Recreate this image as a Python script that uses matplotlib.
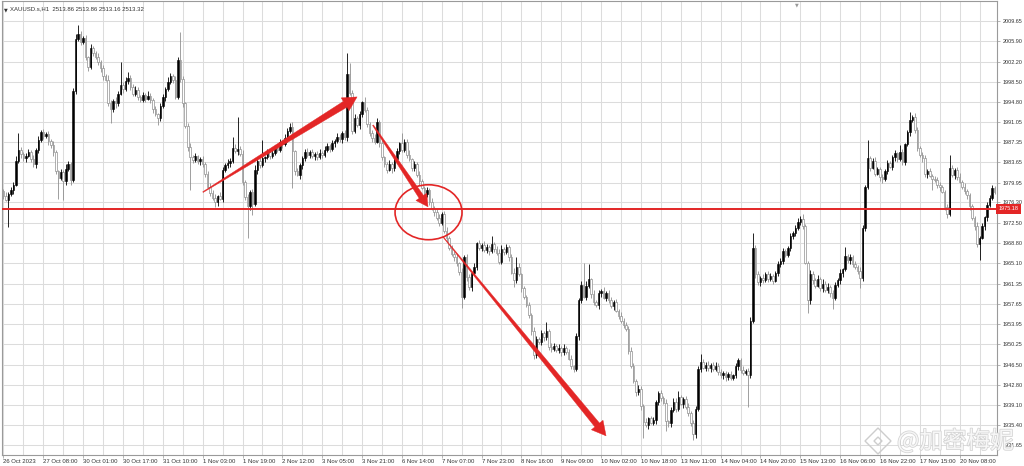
import matplotlib
matplotlib.use('Agg')
import matplotlib.pyplot as plt
import matplotlib.patheffects as pe
import matplotlib.transforms as mtransforms
from matplotlib.patches import Polygon, Ellipse
import numpy as np

# XAUUSD H1 closes, one per bar
closes = [
    1977.5, 1976.8, 1977.9, 1978.6, 1979.6, 1984.0, 1985.9, 1985.2, 1984.4, 1984.9,
    1985.6, 1984.3, 1983.3, 1985.9, 1987.8, 1989.2, 1988.5, 1988.9, 1987.6, 1986.9,
    1985.5, 1982.0, 1980.8, 1981.9, 1980.2, 1982.5, 1983.4, 1980.4, 1996.7, 2006.3,
    2007.2, 2005.8, 2006.5, 2003.0, 2001.2, 2004.6, 2003.8, 2003.0, 2002.1, 2001.0,
    1999.5, 1998.9, 1994.6, 1993.4, 1995.0, 1994.5, 1996.3, 1997.9, 1997.1, 1998.6,
    1999.2, 1997.6, 1996.2, 1997.0, 1995.7, 1995.2, 1996.0, 1995.4, 1995.9, 1995.1,
    1993.4, 1992.5, 1991.8, 1994.0, 1995.6, 1997.1, 1998.5, 1999.6, 1998.9, 1995.6,
    2002.4, 1999.0, 1994.5, 1990.4, 1986.5, 1984.6, 1984.1, 1984.8, 1983.9, 1984.2,
    1983.4, 1981.6, 1979.2, 1978.1, 1977.2, 1976.4, 1977.4, 1977.0, 1982.3, 1983.1,
    1983.5, 1984.0, 1986.4, 1985.7, 1986.2, 1985.2, 1980.1, 1977.3, 1975.6, 1978.2,
    1976.0, 1982.3, 1983.9, 1983.2, 1984.4, 1984.6, 1985.6, 1984.9, 1985.4, 1986.3,
    1986.0, 1987.4, 1987.0, 1988.2, 1989.5, 1990.2, 1985.7, 1982.0, 1981.4, 1983.1,
    1984.5, 1985.6, 1985.0, 1985.5, 1984.8, 1985.2, 1984.6, 1985.4, 1985.1, 1986.0,
    1986.6, 1986.2, 1987.2, 1987.6, 1988.4, 1987.9, 1989.0, 1988.3, 2000.0, 1996.4,
    1989.4, 1991.8, 1990.6, 1992.5, 1994.7, 1993.3, 1990.7, 1989.0, 1988.1, 1987.5,
    1991.0, 1987.2, 1984.6, 1983.3, 1982.3, 1983.4, 1982.6, 1984.3, 1985.8, 1987.2,
    1986.0, 1987.4, 1985.1, 1984.2, 1982.6, 1983.4, 1981.3, 1980.2, 1979.0, 1977.9,
    1978.6, 1976.4, 1975.3, 1974.6, 1973.5, 1972.6, 1974.2, 1971.0, 1969.8, 1968.0,
    1966.9, 1966.2, 1965.1, 1963.6, 1959.0, 1966.2, 1962.6, 1960.7, 1963.3, 1964.5,
    1968.8, 1967.9, 1968.5, 1967.6, 1968.2, 1967.4, 1968.6, 1967.8, 1967.0, 1965.4,
    1967.8, 1967.2, 1968.1, 1966.3, 1963.4, 1962.1, 1964.5, 1963.1, 1960.5, 1958.9,
    1957.4, 1955.6, 1952.7, 1948.3, 1951.2, 1950.6, 1952.3, 1951.5, 1952.6, 1949.8,
    1949.4, 1949.9, 1949.1, 1949.6, 1948.8, 1949.5, 1948.9, 1947.6, 1946.2, 1945.7,
    1951.8, 1958.4, 1961.2, 1959.0, 1961.0, 1962.2, 1959.5, 1958.0, 1957.4, 1959.6,
    1960.1, 1958.8, 1959.7, 1958.4, 1957.3, 1958.0, 1956.4, 1955.5, 1954.6, 1953.7,
    1953.1, 1949.0, 1946.2, 1943.5, 1941.4, 1942.1, 1938.8, 1936.0, 1935.4, 1936.6,
    1935.8, 1936.3, 1939.7, 1941.2, 1940.3, 1939.5, 1936.1, 1935.7, 1938.2, 1939.6,
    1938.4, 1940.5, 1939.3, 1940.2, 1938.7, 1937.6, 1935.8, 1933.7, 1938.4, 1945.6,
    1946.9, 1945.9, 1946.5, 1945.8, 1946.4, 1945.7, 1946.3, 1945.1, 1944.6, 1945.0,
    1944.2, 1944.7, 1944.0, 1944.5, 1946.2, 1947.3, 1945.5, 1944.9, 1945.3, 1944.6,
    1954.5, 1967.9, 1963.2, 1961.6, 1962.4, 1962.0, 1963.1, 1962.3, 1962.8, 1961.9,
    1963.4, 1964.9, 1965.6, 1967.3, 1966.6, 1968.0, 1970.1, 1970.7, 1971.6, 1972.7,
    1973.3, 1971.9, 1965.2, 1958.4, 1963.2, 1962.0, 1961.0, 1962.3, 1960.6, 1961.4,
    1960.2, 1960.8, 1959.6, 1958.8, 1961.1, 1962.0, 1963.3, 1964.0, 1966.4, 1965.7,
    1966.3, 1965.0, 1964.4, 1963.7, 1962.5, 1971.6, 1979.2, 1984.4, 1982.7, 1983.9,
    1981.6, 1982.4, 1980.9, 1980.6, 1982.1, 1983.5, 1982.9, 1984.6, 1985.3, 1984.2,
    1985.6, 1983.7, 1987.0, 1989.2, 1991.4, 1992.0, 1989.6, 1986.3, 1985.0, 1984.4,
    1981.5, 1982.0, 1981.2, 1980.6, 1980.4, 1979.6, 1979.1, 1978.3, 1975.4, 1974.2,
    1982.6, 1981.4, 1982.2, 1981.0, 1980.1, 1979.2, 1978.4, 1977.6, 1975.6, 1973.4,
    1972.0, 1968.6, 1969.8, 1971.9, 1973.6, 1975.8, 1977.2, 1978.9, 1978.2,
]
first_open = 1978.4

# wick lengths above / below the body, in tenths of a dollar
up_wick = [
    4,7,3,6,5,9,4,6,3,5, 6,3,8,5,7,4,6,3,5,4, 7,5,3,6,4,8,5,3,6,9, 5,7,4,6,3,8,5,4,7,3,
    6,4,9,5,3,7,4,6,5,8, 3,6,4,7,5,3,6,4,8,5, 4,7,3,5,6,4,9,5,3,6, 7,4,6,3,5,8,4,6,3,5,
    6,3,5,7,4,6,3,8,5,4, 7,5,4,6,3,5,8,4,6,3, 5,8,4,6,7,3,5,4,9,6, 4,6,3,7,5,4,8,3,6,5,
    3,5,7,4,6,3,5,8,4,6, 6,4,5,3,7,5,4,6,3,8, 5,7,4,6,3,9,5,4,6,7, 8,4,6,3,5,7,4,6,5,3,
    4,6,5,8,3,6,4,7,5,4, 6,3,7,4,5,6,3,5,8,4, 5,4,6,3,7,4,6,5,3,7, 3,6,4,7,5,3,6,4,5,8,
    7,4,5,3,6,8,4,6,3,5, 4,6,3,7,5,4,6,3,8,5, 6,5,4,6,3,7,5,4,6,3, 5,3,6,4,8,5,3,7,4,6,
    3,7,4,6,5,3,6,4,7,5, 6,4,8,5,3,6,4,5,7,3, 4,6,3,5,7,4,6,3,5,8, 7,3,5,4,6,8,3,5,4,6,
    5,6,4,7,3,5,6,4,6,3, 4,5,7,3,6,4,5,7,3,6, 8,4,6,5,3,7,4,6,5,4, 3,6,4,7,5,3,6,4,5,7,
    6,4,5,3,7,5,4,6,3,8, 4,7,3,6,5,4,7,3,6,5, 5,3,6,4,7,5,3,8,4,6, 7,5,4,6,3,6,5,4,7,3,
    4,6,3,5,7,4,8,5,3,6, 6,4,7,3,5,6,4,5,3,7, 3,5,4,6,8,4,6,3,5,4, 5,7,4,6,3,5,4,6,5,
]
dn_wick = [
    5,3,6,4,7,3,5,8,4,6, 3,6,4,7,5,3,6,4,8,5, 6,4,7,3,5,6,4,9,3,5, 4,6,3,5,8,4,6,3,5,7,
    7,3,5,6,4,8,5,3,6,4, 5,7,4,3,6,5,4,7,3,6, 6,4,8,5,3,6,4,5,7,3, 3,5,6,4,7,3,5,4,6,8,
    5,7,3,6,4,5,8,3,6,4, 4,6,5,3,7,4,6,5,3,6, 6,3,7,5,4,6,3,7,5,4, 5,4,6,3,8,5,4,6,3,7,
    7,5,3,6,4,7,5,3,6,4, 4,6,5,7,3,4,6,5,7,3, 6,3,4,8,5,3,6,4,7,5, 3,7,5,4,6,3,8,5,4,6,
    5,4,7,3,6,5,4,6,3,7, 6,5,3,7,4,6,5,3,8,4, 4,7,5,6,3,4,7,5,6,3, 7,3,6,4,5,7,3,6,4,5,
    5,6,4,7,3,5,6,4,7,3, 3,5,7,4,6,3,5,7,4,6, 6,4,3,5,7,6,4,3,5,8, 4,7,5,3,6,4,7,5,3,6,
    7,3,6,5,4,7,3,6,5,4, 5,6,4,3,7,5,6,4,3,7, 3,4,7,6,5,3,4,7,6,5, 6,5,3,7,4,6,5,3,7,4,
    4,3,6,5,7,4,3,6,5,7, 7,6,4,3,5,7,6,4,3,5, 5,3,7,4,6,5,3,7,4,6, 3,7,5,6,4,3,7,5,6,4,
    6,4,3,5,7,6,4,3,5,7, 4,6,7,3,5,4,6,7,3,5, 7,5,4,6,3,7,5,4,6,3, 5,3,6,7,4,5,3,6,7,4,
    3,6,5,4,7,3,6,5,4,7, 6,7,3,5,4,6,7,3,5,4, 4,5,7,6,3,4,5,7,6,3, 7,4,5,3,6,7,4,5,3,
]
# long wicks (bar index -> price)
high_spikes = {6: 1989.1, 30: 2008.9, 47: 2002.1, 50: 2000.3, 71: 2007.6, 92: 1988.3,
               94: 1992.0, 104: 1987.8, 115: 1990.9, 138: 2003.8, 139: 2001.9, 160: 1989.0,
               196: 1970.2, 206: 1966.2, 218: 1954.3, 233: 1965.2, 235: 1965.0, 271: 1941.6,
               280: 1948.4, 295: 1947.8, 301: 1970.6, 321: 1974.2, 338: 1968.1, 347: 1987.8,
               360: 1986.9, 364: 1992.9, 380: 1985.0, 397: 1979.6}
low_spikes = {2: 1971.8, 22: 1976.9, 24: 1976.7, 43: 1990.9, 62: 1990.5, 75: 1978.6,
              85: 1975.4, 98: 1969.8, 100: 1974.0, 116: 1979.0, 184: 1956.9, 205: 1960.7,
              213: 1947.5, 229: 1945.1, 257: 1933.0, 266: 1934.3, 277: 1932.6, 299: 1938.7,
              323: 1955.9, 333: 1956.7, 344: 1960.5, 373: 1978.6, 379: 1973.4, 392: 1965.7}

time_labels = ["26 Oct 2023", "27 Oct 08:00", "30 Oct 01:00", "30 Oct 17:00", "31 Oct 10:00",
               "1 Nov 03:00", "1 Nov 19:00", "2 Nov 12:00", "3 Nov 05:00", "3 Nov 21:00",
               "6 Nov 14:00", "7 Nov 07:00", "7 Nov 23:00", "8 Nov 16:00", "9 Nov 09:00",
               "10 Nov 02:00", "10 Nov 18:00", "13 Nov 11:00", "14 Nov 04:00", "14 Nov 20:00",
               "15 Nov 13:00", "16 Nov 06:00", "16 Nov 22:00", "17 Nov 15:00", "20 Nov 08:00"]
label_step = 16
price_ticks = [2009.65, 2005.90, 2002.20, 1998.50, 1994.80, 1991.05, 1987.35, 1983.65,
               1979.95, 1976.30, 1972.50, 1968.80, 1965.10, 1961.35, 1957.65, 1953.95,
               1950.25, 1946.50, 1942.80, 1939.10, 1935.40, 1931.65]
level = 1975.18
title = "XAUUSD.s,H1  2513.86 2513.86 2513.16 2513.32"

RED = '#e32626'
W, H = 1024, 466
fig = plt.figure(figsize=(W / 100, H / 100), dpi=100)
fig.patch.set_facecolor('white')
ax = fig.add_axes([2 / W, 11 / H, 995 / W, 454 / H])
ax.set_xlim(-0.6, 399.0)
ax.set_ylim(1929.88, 2013.33)

n = len(closes)
x = np.arange(n)
c = np.array(closes)
o = np.concatenate([[first_open], c[:-1]])
top = np.maximum(o, c)
bot = np.minimum(o, c)
hi = top + np.array(up_wick[:n]) / 10
lo = bot - np.array(dn_wick[:n]) / 10
for i, v in high_spikes.items():
    hi[i] = max(v, top[i])
for i, v in low_spikes.items():
    lo[i] = min(v, bot[i])

# grid
for gx in range(0, 400, 8):
    ax.axvline(gx, color='#dcdcdc', lw=0.75, zorder=0)
for gy in price_ticks:
    ax.axhline(gy, color='#dcdcdc', lw=0.75, zorder=0)

bull = c >= o
gray = '#8f8f8f'
ax.vlines(x[bull], lo[bull], hi[bull], color='black', lw=0.6, zorder=2)
ax.vlines(x[~bull], lo[~bull], hi[~bull], color=gray, lw=0.6, zorder=2)
h = np.maximum(top - bot, 0.12)
ax.bar(x[bull], h[bull], bottom=bot[bull], width=0.62, color='black',
       edgecolor='black', lw=0.4, zorder=3)
ax.bar(x[~bull], h[~bull], bottom=bot[~bull], width=0.62, color='white',
       edgecolor=gray, lw=0.5, zorder=3)

# horizontal level
ax.axhline(level, color=RED, lw=1.4, zorder=4)

# axes look
for s in ax.spines.values():
    s.set_color('#9a9a9a')
    s.set_linewidth(0.8)
ax.yaxis.tick_right()
ax.set_yticks(price_ticks)
ax.set_yticklabels([f'{p:.2f}' for p in price_ticks])
ax.tick_params(axis='y', length=2, width=0.5, pad=2, labelsize=4, colors='#9a9a9a',
               labelcolor='#333333')
ax.set_xticks(np.arange(len(time_labels)) * label_step)
ax.set_xticklabels(time_labels, ha='left')
ax.tick_params(axis='x', length=2, width=0.5, pad=1, labelsize=4.3, colors='#9a9a9a',
               labelcolor='#333333')
for t in ax.get_xticklabels() + ax.get_yticklabels():
    t.set_family('Liberation Sans')

trans = mtransforms.blended_transform_factory(ax.transAxes, ax.transData)
ax.text(1.002, level, f'{level:.2f}', transform=trans, ha='left', va='center',
        fontsize=4, color='white', family='Liberation Sans', clip_on=False,
        bbox=dict(boxstyle='square,pad=0.45', fc=RED, ec='none'), zorder=6)

ax.text(0.002, 0.985, '\u25bc', transform=ax.transAxes, fontsize=3.5, color='#333333',
        va='top', ha='left')
ax.text(0.008, 0.988, title, transform=ax.transAxes, fontsize=4.3, color='#333333',
        va='top', ha='left', family='Liberation Sans')
fig.text(797 / W, 1 - 2 / H, '\u25bc', fontsize=3.5, color='#999999', ha='center', va='top')


# hand drawn annotations: tapered arrows + circle
def taper_arrow(tail, tip, w_tail, w_base, head_w, head_len):
    p0 = ax.transData.transform(tail)
    p1 = ax.transData.transform(tip)
    d = p1 - p0
    u = d / np.hypot(*d)
    nrm = np.array([-u[1], u[0]])
    base = p1 - u * head_len
    pts = [p0 + nrm * w_tail, base + nrm * w_base, base + nrm * head_w, p1,
           base - nrm * head_w, base - nrm * w_base, p0 - nrm * w_tail]
    ax.add_patch(Polygon(pts, closed=True, transform=mtransforms.IdentityTransform(),
                         fc=RED, ec=RED, lw=0.3, zorder=7))


taper_arrow((80.1, 1978.2), (142.0, 1995.7), 0.4, 3.4, 7.5, 14)
taper_arrow((148.4, 1990.5), (170.5, 1975.5), 0.5, 2.6, 6.5, 12)
taper_arrow((176.5, 1970.0), (242.0, 1933.4), 0.3, 3.0, 7.5, 14)
ax.add_patch(Ellipse((170.7, 1974.5), 26.9, 10.1, fill=False, ec=RED, lw=1.2, zorder=7))

# watermark
wm_pe = [pe.withStroke(linewidth=1.1, foreground='#cfcfcf')]
fig.text(897 / W, 1 - 441 / H, '@加密梅妮', fontsize=17, color='#fafafa', va='center',
         ha='left', family=['Noto Sans CJK SC', 'DejaVu Sans'], path_effects=wm_pe,
         alpha=0.9, zorder=10)
cx, cy, r = 878, 466 - 441, 13
logo = [[(cx, cy + r), (cx + r, cy), (cx, cy - r), (cx - r, cy)],
        [(cx, cy + 4), (cx + 4, cy), (cx, cy - 4), (cx - 4, cy)]]
for pts in logo:
    fig.patches.append(Polygon(pts, closed=True, transform=mtransforms.IdentityTransform(),
                               fill=False, ec='#cdcdcd', lw=1.0, figure=fig))

fig.savefig('out.png', dpi=100, facecolor='white')
